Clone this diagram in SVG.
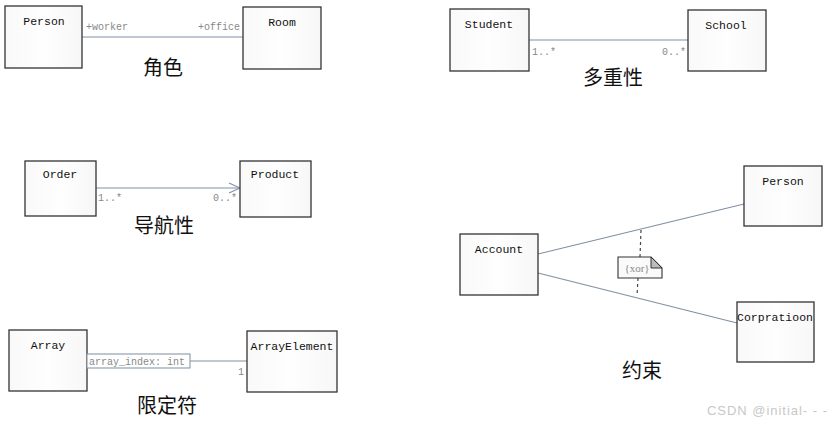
<svg xmlns="http://www.w3.org/2000/svg" width="834" height="426" viewBox="0 0 834 426">
<defs>
<linearGradient id="g" x1="0" y1="0" x2="1" y2="0">
<stop offset="0" stop-color="#f9f9f9"/>
<stop offset="0.5" stop-color="#fefefe"/>
<stop offset="1" stop-color="#f7f7f7"/>
</linearGradient>
</defs>
<style>
.box{fill:url(#g);stroke:#333;stroke-width:1.3}
.nm{font-family:"Liberation Mono","DejaVu Sans Mono",monospace;font-size:11.5px;fill:#111;text-anchor:middle}
.lb{font-family:"Liberation Mono","DejaVu Sans Mono",monospace;font-size:10px;fill:#888}
.cn{font-family:"Noto Sans CJK SC","Noto Sans",sans-serif;font-size:20px;fill:#111;text-anchor:middle}
.ln{stroke:#8090a6;stroke-width:1.1;fill:none}
.dash{stroke:#444;stroke-width:1.2;stroke-dasharray:3 3;fill:none}
</style>
<rect width="834" height="426" fill="#fff"/>
<g id="connectors">
<line class="ln" x1="82" y1="37" x2="243" y2="37"/>
<line class="ln" x1="529" y1="40" x2="688" y2="40"/>
<line class="ln" x1="96" y1="188" x2="240" y2="188"/>
<path class="ln" d="M229,183 L240,188 L229,193"/>
<line class="ln" x1="190" y1="361" x2="247" y2="361"/>
<line class="ln" x1="538" y1="254" x2="744" y2="204"/>
<line class="ln" x1="538" y1="273" x2="737" y2="323"/>
<line class="dash" x1="641" y1="230" x2="640" y2="257"/>
<line class="dash" x1="638" y1="278" x2="637" y2="296"/>
<text class="lb" x="86" y="30">+worker</text>
<text class="lb" x="240" y="30" text-anchor="end">+office</text>
<text class="lb" x="532" y="55">1..*</text>
<text class="lb" x="686" y="55" text-anchor="end">0..*</text>
<text class="lb" x="98" y="201">1..*</text>
<text class="lb" x="237" y="201" text-anchor="end">0..*</text>
<text class="lb" x="244" y="375" text-anchor="end">1</text>
</g>
<g id="person1"><rect class="box" x="5" y="6" width="77" height="62"/><text class="nm" x="44" y="25">Person</text></g>
<g id="room"><rect class="box" x="243" y="7" width="78" height="62"/><text class="nm" x="282" y="26">Room</text></g>
<g id="student"><rect class="box" x="450" y="9" width="79" height="62"/><text class="nm" x="489" y="28">Student</text></g>
<g id="school"><rect class="box" x="688" y="10" width="78" height="61"/><text class="nm" x="726" y="29">School</text></g>
<g id="order"><rect class="box" x="25" y="161" width="71" height="55"/><text class="nm" x="60" y="178">Order</text></g>
<g id="product"><rect class="box" x="240" y="161" width="71" height="56"/><text class="nm" x="275" y="178">Product</text></g>
<g id="array"><rect class="box" x="9" y="330" width="78" height="61"/><text class="nm" x="48" y="349">Array</text></g>
<g id="qualifier"><rect x="87" y="354" width="103" height="14" fill="#fff" stroke="#8899aa" stroke-width="1.1"/><text class="lb" x="89" y="365">array_index: int</text></g>
<g id="arrayelement"><rect class="box" x="247" y="331" width="90" height="61"/><text class="nm" x="292" y="350">ArrayElement</text></g>
<g id="account"><rect class="box" x="460" y="234" width="78" height="61"/><text class="nm" x="499" y="253">Account</text></g>
<g id="person2"><rect class="box" x="744" y="166" width="78" height="60"/><text class="nm" x="783" y="185">Person</text></g>
<g id="corpratioon"><rect class="box" x="737" y="302" width="77" height="60"/><text class="nm" x="775" y="321">Corpratioon</text></g>
<g id="note">
<path d="M618,257 L651,257 L662,268 L662,278 L618,278 Z" fill="#fafafa" stroke="#333" stroke-width="1.1"/>
<path d="M651,257 L651,268 L662,268 Z" fill="#bbb" stroke="#333" stroke-width="1"/>
<text x="637" y="272" font-family="Liberation Serif,serif" font-size="11px" fill="#888" text-anchor="middle">{xor}</text>
</g>
<text class="cn" x="163" y="75">角色</text>
<text class="cn" x="613" y="85">多重性</text>
<text class="cn" x="164" y="233">导航性</text>
<text class="cn" x="167" y="413">限定符</text>
<text class="cn" x="642" y="378">约束</text>
<text x="707" y="415" font-family="Liberation Sans,sans-serif" font-size="13px" fill="#c8c8c8" textLength="120" lengthAdjust="spacing">CSDN @initial- - -</text>
</svg>
